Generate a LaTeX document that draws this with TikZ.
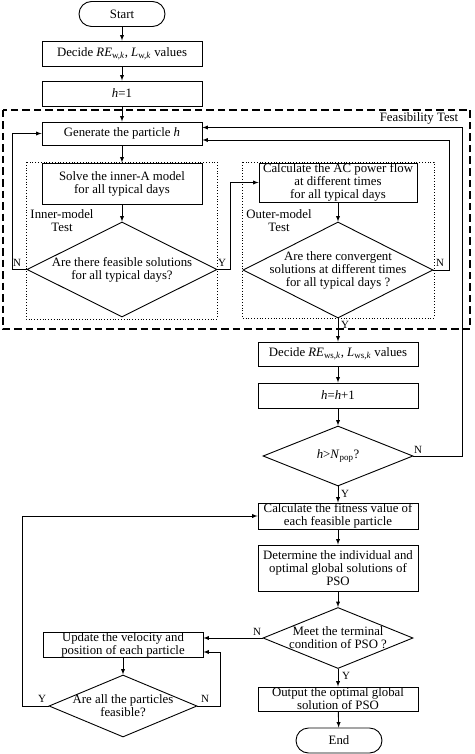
\documentclass[tikz,border=0pt]{standalone}
\usepackage{fontspec}
\setmainfont{Liberation Serif}
\usepackage{tikz}
\usetikzlibrary{arrows,calc,shapes.geometric}

\begin{document}
\begin{tikzpicture}[x=1pt, y=-1pt, font=\fontsize{12.8}{13}\selectfont,
    proc/.style={draw, line width=.9pt, minimum width=160pt, minimum height=25pt, align=center, inner xsep=1pt, inner ysep=0pt},
    term/.style={draw, line width=.9pt, rounded corners=12.5pt, minimum width=86pt, minimum height=25pt},
    cond/.style={draw, diamond, line width=.9pt, inner sep=0pt},
    ctext/.style={align=center, inner sep=0pt},
    lab/.style={font=\fontsize{11}{12}\selectfont, inner sep=0pt},
    flow/.style={->, >=latex, line width=.9pt}]

                    \useasboundingbox (0,0) rectangle (474,754);

                    \draw[line width=1.4pt, dash pattern=on 7.5pt off 4pt] (3,110) rectangle (470,329);
                    \draw[line width=.8pt, dotted] (26,162) rectangle (217,319);
                    \draw[line width=.8pt, dotted] (242,162) rectangle (434,318);
                    \node (ft) at (419,118) {Feasibility Test};
                    \node[align=center, inner sep=0pt] (it) at (62,221) {Inner-model\\Test};
                    \node[align=center, inner sep=0pt] (ot) at (279,221) {Outer-model\\Test};

                    \node[term] (start) at (122,14) {Start};
                    \node[proc] (dw) at (122,53.5) {Decide \textit{RE}\textsubscript{w,\textit{k}}, \textit{L}\textsubscript{w,\textit{k}} values};
                    \node[proc] (h1) at (122,93.5) {\textit{h}=1};
                    \node[proc, minimum height=23pt] (gen) at (122,133.5) {Generate the particle \textit{h}};
                    \node[proc, minimum height=41pt] (solve) at (122,183.5) {Solve the inner-A model\\for all typical days};
                    \node[cond, minimum width=190pt, minimum height=95pt] (d1) at (122,269.5) {};
                    \node[ctext] (t1) at (d1) {Are there feasible solutions\\for all typical days?};

                    \node[proc, minimum width=158pt, minimum height=39pt] (ac) at (338,182.5) {Calculate the AC power flow\\at different times\\for all typical days};
                    \node[cond, minimum width=190pt, minimum height=96pt] (d2) at (338,270) {};
                    \node[ctext] (t2) at (d2) {Are there convergent\\solutions at different times\\for all typical days ?};

                    \node[proc, minimum height=24pt] (dws) at (338,354) {Decide \textit{RE}\textsubscript{ws,\textit{k}}, \textit{L}\textsubscript{ws,\textit{k}} values};
                    \node[proc] (hinc) at (338,395.5) {\textit{h}=\textit{h}+1};
                    \node[cond, minimum width=150pt, minimum height=60pt] (d3) at (338,456) {};
                    \node[ctext] (t3) at (d3) {\textit{h}>\textit{N}\textsubscript{pop}?};

                    \node[proc, minimum height=26pt] (fit) at (338,516) {Calculate the fitness value of\\each feasible particle};
                    \node[proc, minimum height=46pt] (det) at (338,568) {Determine the individual and\\optimal global solutions of\\PSO};
                    \node[cond, minimum width=150pt, minimum height=61pt] (d4) at (338,638) {};
                    \node[ctext] (t4) at (d4) {Meet the terminal\\condition of PSO ?};
                    \node[proc, minimum height=24pt] (out) at (338,699) {Output the optimal global\\solution of PSO};
                    \node[term] (end) at (339,740.5) {End};

                    \node[proc, minimum height=24pt] (upd) at (123,645) {Update the velocity and\\position of each particle};
                    \node[cond, minimum width=148pt, minimum height=62pt] (d5) at (123,706) {};
                    \node[ctext] (t5) at (d5) {Are all the particles\\feasible?};

                    \draw[flow] (start) -- (dw);
                    \draw[flow] (dw) -- (h1);
                    \draw[flow] (h1) -- (gen);
                    \draw[flow] (gen) -- (solve);
                    \draw[flow] (solve) -- (d1);
                    \draw[flow] (d1.west) -- ++(-14,0) |- (gen.west);
                    \draw[flow] (d1.east) -- ++(13,0) |- (ac.west);
                    \draw[flow] (ac) -- (d2);
                    \draw[flow] (d2.east) -- ++(16,0) |- ([yshift=-6.5pt]gen.east);
                    \draw[flow] (d2) -- (dws);
                    \draw[flow] (dws) -- (hinc);
                    \draw[flow] (hinc) -- (d3);
                    \draw[flow] (d3.east) -- ++(49,0) |- ([yshift=6pt]gen.east);
                    \draw[flow] (d3) -- (fit);
                    \draw[flow] (fit) -- (det);
                    \draw[flow] (det) -- (d4);
                    \draw[flow] (d4.west) -- (d4.west -| upd.east);
                    \draw[flow] (upd) -- (d5);
                    \draw[flow] (d5.east) -- ++(23,0) |- ([yshift=-7pt]upd.east);
                    \draw[flow] (d5.west) -- ++(-26,0) |- (fit.west);
                    \draw[flow] (d4) -- (out);
                    \draw[flow] (out) -- (end);

                    \node[lab] (n1) at (17,263) {N};
                    \node[lab] (y1) at (222,263) {Y};
                    \node[lab] (n2) at (440,263) {N};
                    \node[lab] (y2) at (345,325) {Y};
                    \node[lab] (n3) at (418,450) {N};
                    \node[lab] (y3) at (345,494) {Y};
                    \node[lab] (n4) at (257,632) {N};
                    \node[lab] (y4) at (346,676) {Y};
                    \node[lab] (y5) at (42,699) {Y};
                    \node[lab] (n5) at (205,699) {N};

                \end{tikzpicture}
\end{document}
